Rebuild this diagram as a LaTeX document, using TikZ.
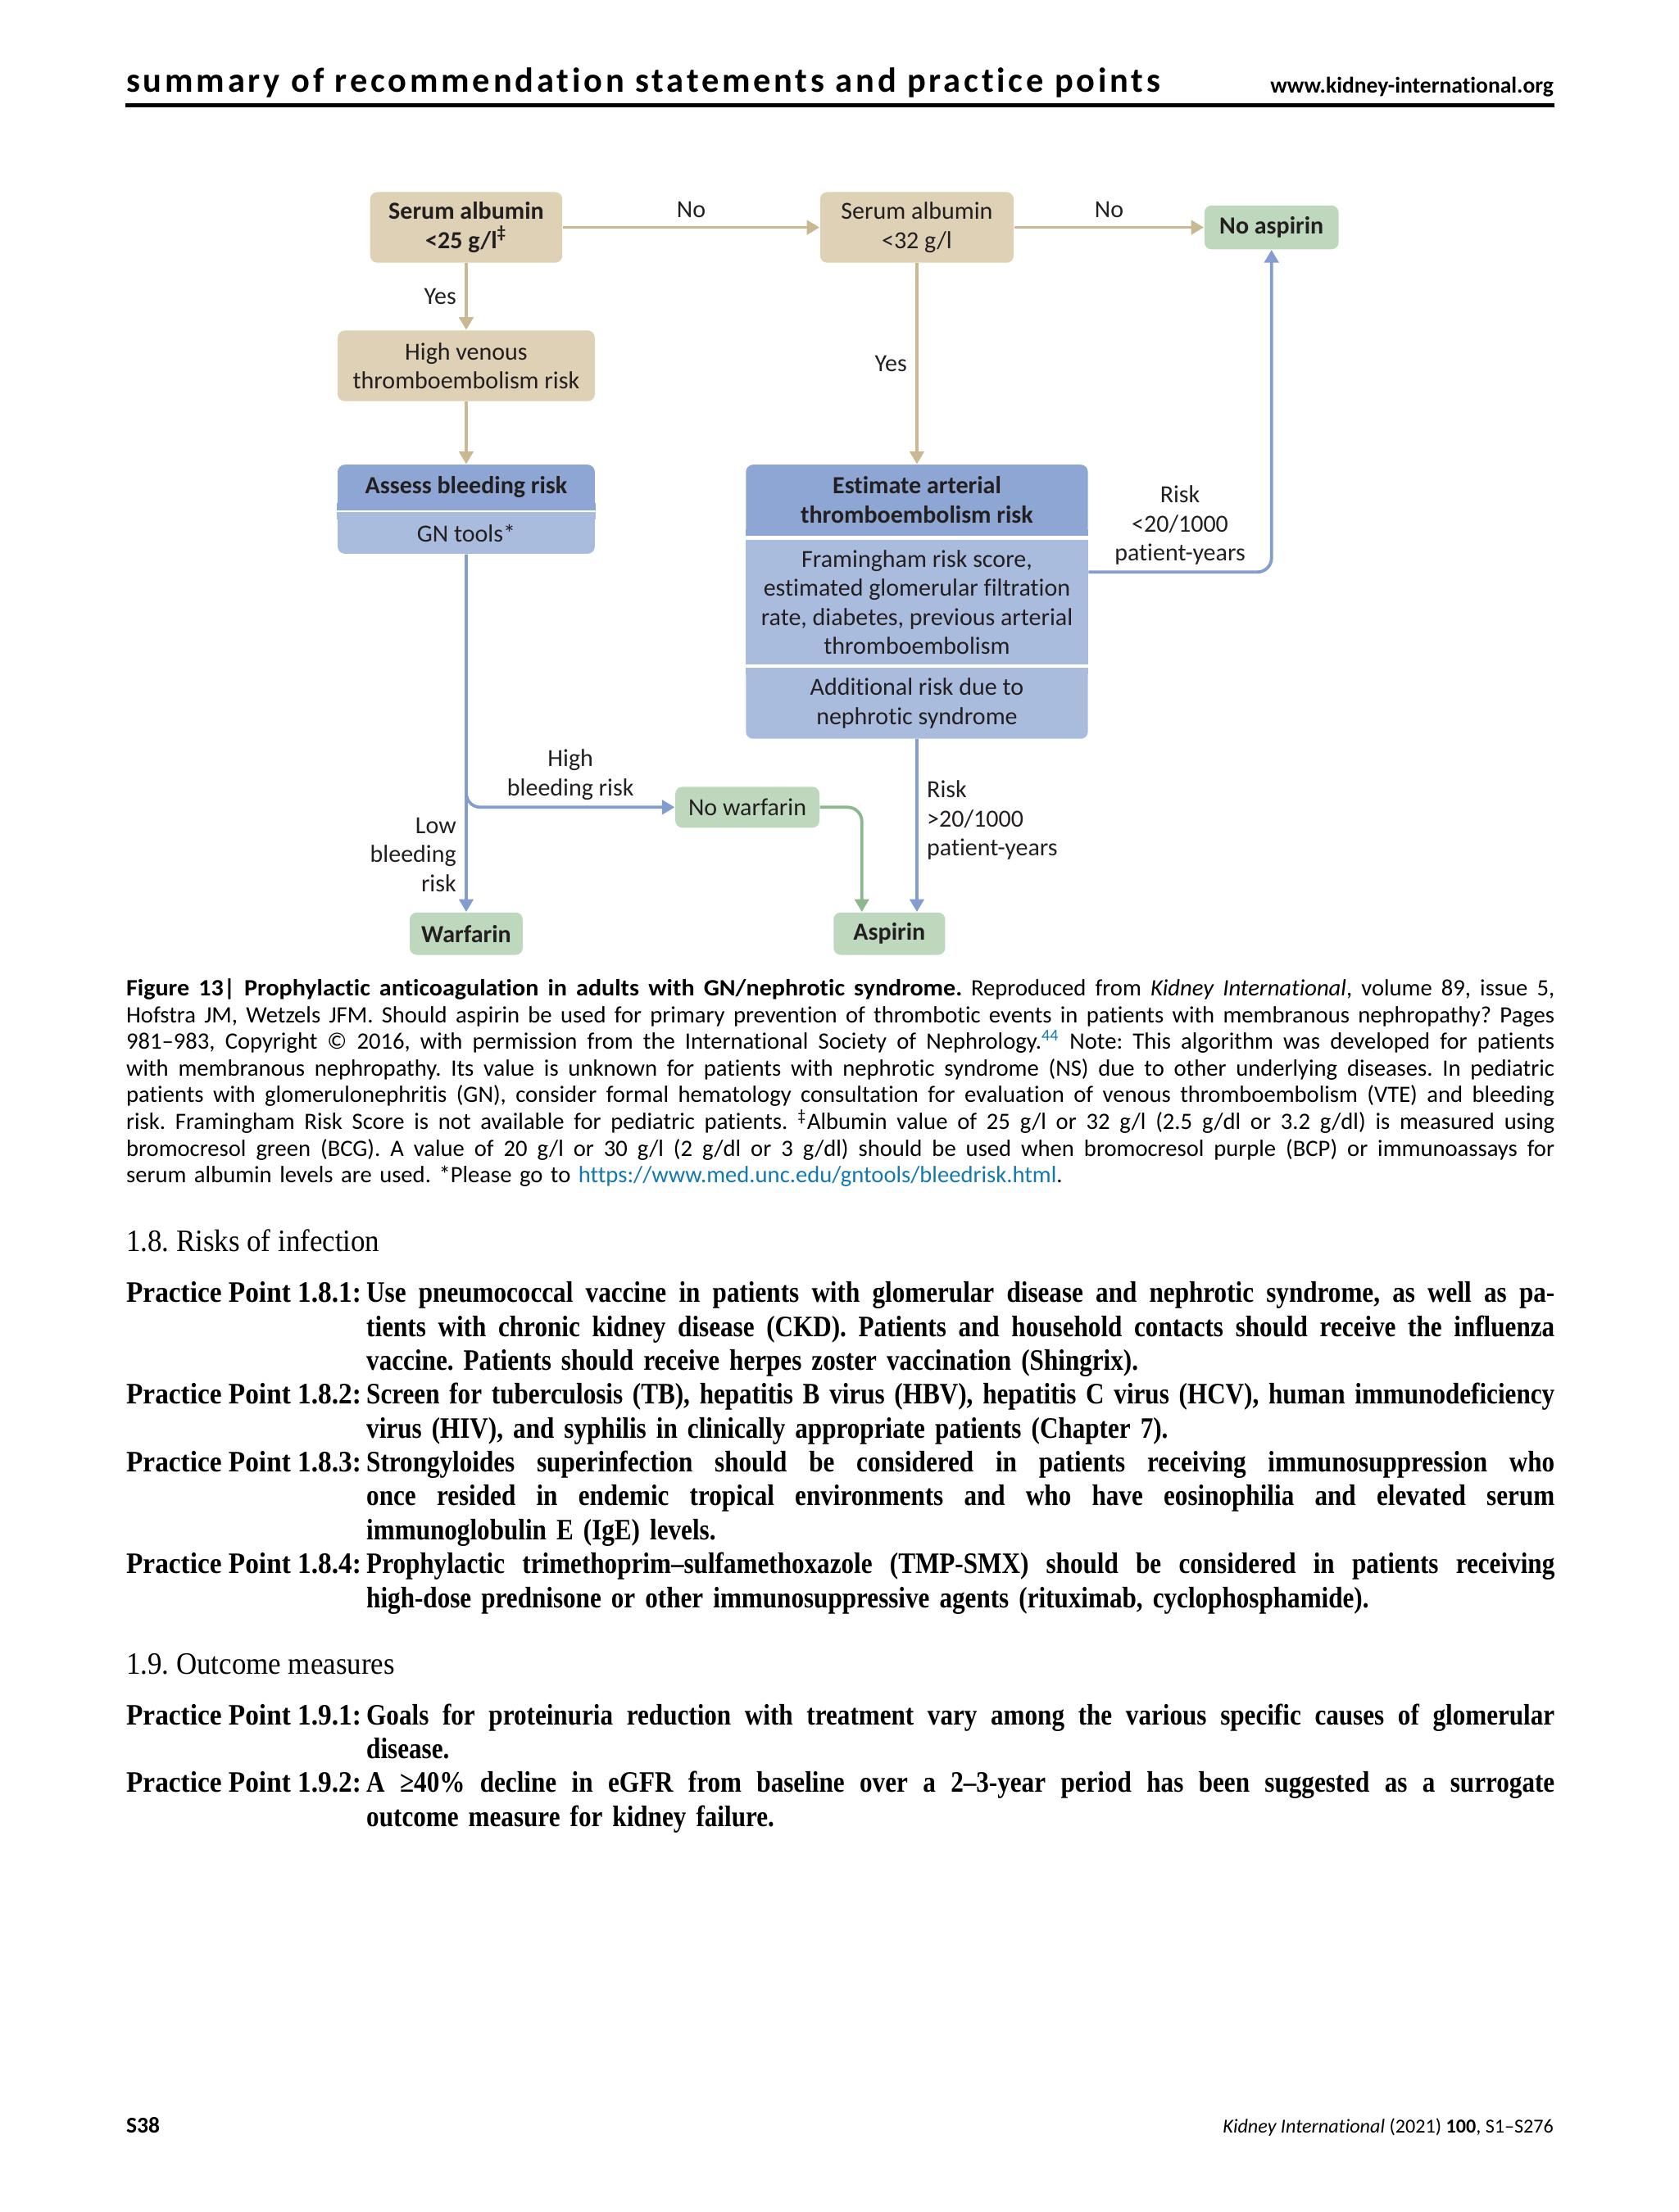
\documentclass[tikz,border=0pt]{standalone}
\usepackage{fontspec}
\setmainfont{Liberation Serif}
\newfontfamily\figfont[Ligatures=NoCommon]{Carlito}
\newfontfamily\capbold[Ligatures=NoCommon,FakeStretch=1.05]{Carlito}
\newfontfamily\headfont[Ligatures=NoCommon,LetterSpace=9]{Carlito}
\newfontfamily\ppfont[FakeStretch=0.86]{Liberation Serif}
\newfontfamily\pplabfont[FakeStretch=0.92]{Liberation Serif}
\usetikzlibrary{arrows.meta,calc}

\definecolor{tanfill}{RGB}{222,209,182}
\definecolor{tanline}{RGB}{201,184,146}
\definecolor{bluehead}{RGB}{141,166,211}
\definecolor{bluebody}{RGB}{170,188,222}
\definecolor{blueline}{RGB}{131,157,206}
\definecolor{greenfill}{RGB}{190,216,190}
\definecolor{greenline}{RGB}{139,184,140}
\definecolor{linkblue}{RGB}{20,120,175}
\definecolor{inkgray}{RGB}{35,31,32}

\newcommand{\boxfont}{\figfont\fontsize{8.7}{10.3}\selectfont}
\newcommand{\capfont}{\figfont\fontsize{8.3}{9.45}\selectfont}
\newcommand{\ppsize}{\ppfont\bfseries\fontsize{10.5}{12}\selectfont}
\newcommand{\capline}[1]{\leavevmode\hbox to 505.5pt{\spaceskip=0.23em plus 1em minus 0.05em\relax #1}}
\newcommand{\ppline}[1]{\leavevmode\hbox to 420.5pt{\spaceskip=0.215em plus 1em minus 0.05em\relax #1}}

\tikzset{
  box/.style={rounded corners=2.5pt, inner sep=0pt, align=center, font=\boxfont, text=inkgray},
  tanbox/.style={box, fill=tanfill},
  greenbox/.style={box, fill=greenfill, font=\boxfont\bfseries},
  bluetop/.style={box, fill=bluehead, font=\boxfont\bfseries},
  bluepart/.style={box, fill=bluebody},
  edgelabel/.style={font=\boxfont, text=inkgray, inner sep=1pt},
  tanarrow/.style={draw=tanline, line width=1.1pt, -{Triangle[length=4.5pt,width=5pt]}},
  bluearrow/.style={draw=blueline, line width=1.1pt, -{Triangle[length=4.5pt,width=5pt]}},
  greenarrow/.style={draw=greenline, line width=1.1pt, -{Triangle[length=4.5pt,width=5pt]}},
  pplabel/.style={anchor=base west, inner sep=0pt, font=\pplabfont\bfseries\fontsize{10.5}{12}\selectfont},
  pptext/.style={anchor=base west, inner sep=0pt, text width=420.5pt, font=\ppsize},
  sechead/.style={anchor=base west, inner sep=0pt, font=\pplabfont\fontsize{11}{13}\selectfont},
}

\begin{document}
\frenchspacing
\begin{tikzpicture}[x=0.5pt,y=0.5pt,yscale=-1]
\useasboundingbox (0,0) rectangle (1188,1566);

% Running head
\node[anchor=base west, inner sep=0pt, font=\headfont\bfseries\fontsize{12.3}{14}\selectfont] (runhead) at (89,65) {summary of recommendation statements and practice points};
\node[anchor=base east, inner sep=0pt, font=\figfont\bfseries\fontsize{8}{10}\selectfont] (website) at (1100,66) {www.kidney-international.org};
\draw[line width=1.5pt] (89,74.5) -- (1100,74.5);

%Shape: albumin boxes
\node[tanbox, font=\boxfont\bfseries, minimum width=68pt, minimum height=25pt] (alb25) at (330,161) {Serum albumin\\<25 g/l\textsuperscript{‡}};
\node[tanbox, minimum width=68.5pt, minimum height=25pt] (alb32) at (649,161) {Serum albumin\\<32 g/l};
\node[greenbox, minimum width=47.5pt, minimum height=15.5pt] (noasp) at (900,161) {No aspirin};
\node[tanbox, minimum width=91pt, minimum height=25pt] (venous) at (330,259) {High venous\\thromboembolism risk};

%Shape: bleeding risk block
\node[bluetop, minimum width=91pt, minimum height=16pt] (bleed) at (330,345) {Assess bleeding risk};
\node[bluepart, minimum width=91pt, minimum height=14.5pt] (gntools) at (330,377.5) {GN tools*};
\fill[bluehead] (bleed.south west) rectangle ($(bleed.south east)!2.5pt!(bleed.north east)$);
\fill[bluebody] (gntools.north west) rectangle ($(gntools.north east)!2.5pt!(gntools.south east)$);

%Shape: arterial risk block
\node[bluetop, minimum width=121pt, minimum height=25pt] (arterial) at (649,354) {Estimate arterial\\thromboembolism risk};
\node[bluepart, sharp corners, minimum width=121pt, minimum height=44pt] (fram) at (649,426.5) {Framingham risk score,\\estimated glomerular filtration\\rate, diabetes, previous arterial\\thromboembolism};
\node[bluepart, minimum width=121pt, minimum height=25pt] (nsrisk) at (649,498) {Additional risk due to\\nephrotic syndrome};
\fill[bluehead] (arterial.south west) rectangle ($(arterial.south east)!2.5pt!(arterial.north east)$);
\fill[bluebody] (nsrisk.north west) rectangle ($(nsrisk.north east)!2.5pt!(nsrisk.south east)$);

%Shape: outcomes
\node[greenbox, font=\boxfont, minimum width=51pt, minimum height=14.5pt] (nowarf) at (529,571.5) {No warfarin};
\node[greenbox, minimum width=40pt, minimum height=15pt] (warf) at (330,661) {Warfarin};
\node[greenbox, minimum width=39.5pt, minimum height=15pt] (asp) at (629.5,661) {Aspirin};

%Straight Lines
\draw[tanarrow] (alb25) -- node[edgelabel, above=2pt] {No} (alb32);
\draw[tanarrow] (alb32) -- node[edgelabel, above=2pt] {No} (noasp);
\draw[tanarrow] (alb25) -- node[edgelabel, left=2pt] {Yes} (venous);
\draw[tanarrow] (venous) -- (bleed);
\draw[tanarrow] (alb32) -- node[edgelabel, left=2pt] {Yes} (arterial);

\coordinate (riskbend) at (900,405);
\draw[bluearrow, rounded corners=5pt] (fram.east |- riskbend) -| node[edgelabel, pos=0.25, above=1pt, align=center] {Risk\\<20/1000\\patient-years} (noasp);
\draw[bluearrow] (gntools) -- node[edgelabel, pos=0.84, left=2pt, align=right] {Low\\bleeding\\risk} (warf);
\draw[bluearrow, rounded corners=5pt] (gntools) |- node[edgelabel, pos=0.75, above=1pt, align=center] {High\\bleeding risk} (nowarf);
\draw[greenarrow, rounded corners=5pt] (nowarf) -| ([xshift=-9.75pt]asp.north);
\draw[bluearrow] (nsrisk.south) -- node[edgelabel, pos=0.47, right=2pt, align=left] {Risk\\>20/1000\\patient-years} (nsrisk.south |- asp.north);

% Caption
\node[anchor=base west, inner sep=0pt, text width=505.5pt, font=\capfont] (caption) at (89,705) {%
\capline{{\capbold\bfseries Figure 13| Prophylactic anticoagulation in adults with GN/nephrotic syndrome.} Reproduced from \textit{Kidney International}, volume 89, issue 5,}\\
\capline{Hofstra JM, Wetzels JFM. Should aspirin be used for primary prevention of thrombotic events in patients with membranous nephropathy? Pages}\\
\capline{981–983, Copyright © 2016, with permission from the International Society of Nephrology.\textsuperscript{\color{linkblue}44} Note: This algorithm was developed for patients}\\
\capline{with membranous nephropathy. Its value is unknown for patients with nephrotic syndrome (NS) due to other underlying diseases. In pediatric}\\
\capline{patients with glomerulonephritis (GN), consider formal hematology consultation for evaluation of venous thromboembolism (VTE) and bleeding}\\
\capline{risk. Framingham Risk Score is not available for pediatric patients. \textsuperscript{‡}Albumin value of 25 g/l or 32 g/l (2.5 g/dl or 3.2 g/dl) is measured using}\\
\capline{bromocresol green (BCG). A value of 20 g/l or 30 g/l (2 g/dl or 3 g/dl) should be used when bromocresol purple (BCP) or immunoassays for}\\
serum albumin levels are used. *Please go to {\color{linkblue}https://www.med.unc.edu/gntools/bleedrisk.html}.};

% Text Node: 1.8
\node[sechead] (sec18) at (89,886) {1.8. Risks of infection};
\node[pplabel] (pp181) at (89,922) {Practice Point 1.8.1:};
\node[pptext] (pp181t) at (259,922) {%
\ppline{Use pneumococcal vaccine in patients with glomerular disease and nephrotic syndrome, as well as pa-}\\
\ppline{tients with chronic kidney disease (CKD). Patients and household contacts should receive the influenza}\\
vaccine. Patients should receive herpes zoster vaccination (Shingrix).};
\node[pplabel] (pp182) at (89,994) {Practice Point 1.8.2:};
\node[pptext] (pp182t) at (259,994) {%
\ppline{Screen for tuberculosis (TB), hepatitis B virus (HBV), hepatitis C virus (HCV), human immunodeficiency}\\
virus (HIV), and syphilis in clinically appropriate patients (Chapter 7).};
\node[pplabel] (pp183) at (89,1042) {Practice Point 1.8.3:};
\node[pptext] (pp183t) at (259,1042) {%
\ppline{Strongyloides superinfection should be considered in patients receiving immunosuppression who}\\
\ppline{once resided in endemic tropical environments and who have eosinophilia and elevated serum}\\
immunoglobulin E (IgE) levels.};
\node[pplabel] (pp184) at (89,1114) {Practice Point 1.8.4:};
\node[pptext] (pp184t) at (259,1114) {%
\ppline{Prophylactic trimethoprim–sulfamethoxazole (TMP-SMX) should be considered in patients receiving}\\
high-dose prednisone or other immunosuppressive agents (rituximab, cyclophosphamide).};

% Text Node: 1.9
\node[sechead] (sec19) at (89,1185) {1.9. Outcome measures};
\node[pplabel] (pp191) at (89,1221) {Practice Point 1.9.1:};
\node[pptext] (pp191t) at (259,1221) {%
\ppline{Goals for proteinuria reduction with treatment vary among the various specific causes of glomerular}\\
disease.};
\node[pplabel] (pp192) at (89,1269) {Practice Point 1.9.2:};
\node[pptext] (pp192t) at (259,1269) {%
\ppline{A ≥40\% decline in eGFR from baseline over a 2–3-year period has been suggested as a surrogate}\\
outcome measure for kidney failure.};

% Footer
\node[anchor=base west, inner sep=0pt, font=\figfont\bfseries\fontsize{8}{10}\selectfont] (pagenum) at (89,1510) {S38};
\node[anchor=base east, inner sep=0pt, font=\figfont\fontsize{7}{9}\selectfont] (journal) at (1100,1510) {\textit{Kidney International} (2021) \textbf{100}, S1–S276};

\end{tikzpicture}
\end{document}
